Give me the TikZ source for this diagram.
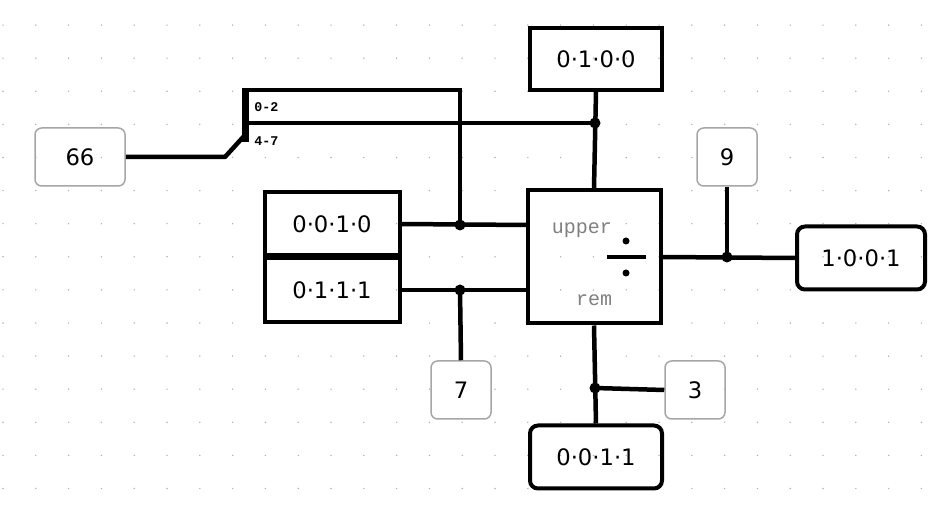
\documentclass[tikz,border=0pt]{standalone}
\usepackage{fontspec}
\setmainfont{DejaVu Sans}
\newfontfamily\monof{Liberation Mono}
\begin{document}
\begin{tikzpicture}[x=0.75pt,y=-0.75pt,
  wire/.style={line width=4.5pt*0.75},
  outb/.style={draw,line width=4pt*0.75,inner sep=0pt},
  cst/.style={draw=gray!70,line width=1.5pt*0.75,rounded corners=5pt,inner sep=0pt,minimum width=60*0.75pt,minimum height=58*0.75pt,font=\fontsize{17}{17}\selectfont},
  jn/.style={circle,fill=black,inner sep=0pt,minimum size=11*0.75pt},
  bits/.style={font=\fontsize{17}{17}\selectfont}]
\useasboundingbox (0,0) rectangle (951,520);
\fill[white] (0,0) rectangle (951,520);
\foreach \i in {0,...,29} \foreach \j in {1,...,16}
  \fill[gray!60] ({32.8*\i+3},{33.1*\j-8}) circle (0.6pt);
% constants
\node[cst,minimum width=90*0.75pt] (c66) at (80,157) {66};
\node[cst] (c9) at (727,157) {9};
\node[cst] (c7) at (461,390) {7};
\node[cst] (c3) at (695,390) {3};
% outputs / inputs
\node[outb,minimum width=132*0.75pt,minimum height=62*0.75pt] (o1) at (596,59) {};
\node[bits] at (o1) {0·1·0·0};
\node[outb,rounded corners=6pt,minimum width=128*0.75pt,minimum height=63*0.75pt] (o2) at (861,258) {};
\node[bits] at (o2) {1·0·0·1};
\node[outb,rounded corners=6pt,minimum width=132*0.75pt,minimum height=63*0.75pt] (o3) at (596,457) {};
\node[bits] at (o3) {0·0·1·1};
\node[outb,minimum width=135*0.75pt,minimum height=63*0.75pt] (i1) at (332,224) {};
\node[bits] at (i1) {0·0·1·0};
\node[outb,minimum width=135*0.75pt,minimum height=64*0.75pt] (i2) at (332,290) {};
\node[bits] at (i2) {0·1·1·1};
% divider
\node[outb,minimum width=133*0.75pt,minimum height=133*0.75pt] (dv) at (594,257) {};
\node[text=gray,font=\monof\fontsize{15}{15}\selectfont] at (582,230) {upper};
\node[text=gray,font=\monof\fontsize{15}{15}\selectfont] at (594,300) {rem};
\draw[line width=4pt*0.75] (607,257) -- (646,257);
\fill (626,241) circle (3.5pt*0.75);
\fill (626,273) circle (3.5pt*0.75);
% splitter
\coordinate (s0) at (225,157);
\coordinate (s1) at (245,135);
\draw[wire,line join=round] (c66.east) -- (s0) -- (s1);
\draw[line width=7pt*0.75] (245,88) -- (245,142);
\node[font=\monof\bfseries\fontsize{10}{10}\selectfont,anchor=west,inner sep=0pt] at (254,107) {0-2};
\node[font=\monof\bfseries\fontsize{10}{10}\selectfont,anchor=west,inner sep=0pt] at (254,141) {4-7};
\node[jn] (j1) at (460,225) {};
\node[jn] (j2) at (595,123) {};
\node[jn] (j3) at (460,290) {};
\node[jn] (j4) at (727,257) {};
\node[jn] (j5) at (595,388) {};
\draw[wire] (245,90) -- (460,90) -- (j1.center);
\draw[wire] (245,123) -- (j2.center);
\draw[wire] (o1.south) -- (dv.north);
\draw[wire] (i1.east) -- (527,225);
\draw[wire] (i2.east) -- (527,290);
\draw[wire] (j3.center) -- (c7.north);
\draw[wire] (dv.east) -- (o2.west);
\draw[wire] (j4.center) -- (c9.south);
\draw[wire] (dv.south) -- (o3.north);
\draw[wire] (j5.center) -- (c3.west);
\end{tikzpicture}
\end{document}
